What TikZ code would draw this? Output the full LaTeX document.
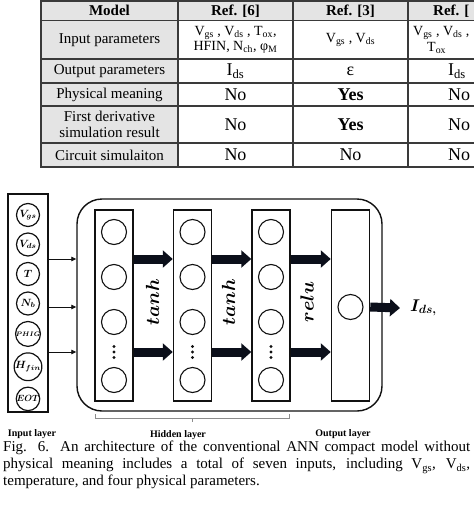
\RequirePackage{fix-cm}
\documentclass[tikz,border=0pt]{standalone}
\usepackage{fontspec}
\setmainfont{Liberation Serif}
\usepackage{bm}
\usetikzlibrary{positioning,arrows.meta}
\definecolor{cLine}{HTML}{111111}
\definecolor{cGrid}{HTML}{3A3A3A}
\definecolor{cCell}{HTML}{E4E4E4}
\definecolor{cBrace}{HTML}{8C8C8C}
\definecolor{cArrow}{HTML}{0B0F1A}
\tikzset{
  cell-text/.style={inner sep=0pt,align=center,font=\fontsize{15}{15.5}\selectfont},
  cell-small/.style={inner sep=0pt,align=center,font=\fontsize{14}{15}\selectfont},
  cell-big/.style={inner sep=0pt,font=\fontsize{18}{18}\selectfont},
  grid-line/.style={draw=cGrid,line width=1.1pt},
  table-border/.style={draw=cGrid,line width=2.4pt},
  in-box/.style={draw=cLine,line width=1.3pt,minimum width=40pt,minimum height=218pt,inner sep=0pt},
  layer-box/.style={draw=cLine,line width=1.5pt,minimum width=38pt,minimum height=191pt,inner sep=0pt},
  in-neuron/.style={draw=cLine,line width=1.2pt,circle,minimum size=23pt,inner sep=0pt,
    font=\fontsize{10.5}{10.5}\selectfont},
  neuron/.style={draw=cLine,line width=1.1pt,circle,minimum size=25pt,inner sep=0pt},
  dot-mark/.style={fill=cLine},
  frame-box/.style={draw=cLine,line width=1.4pt,rounded corners=25pt,minimum width=305pt,
    minimum height=212pt,inner sep=0pt},
  arrow-thin/.style={-{Triangle[length=5pt,width=4.5pt]},line width=0.8pt,draw=cLine},
  arrow-fat/.style={-{Triangle[length=10pt,width=17pt]},line width=9pt,draw=cArrow},
  act-label/.style={rotate=90,inner sep=0pt,font=\fontsize{19}{19}\selectfont},
  layer-label/.style={inner sep=0pt,font=\fontsize{10}{10}\selectfont\bfseries},
  brace-line/.style={draw=cBrace,line width=0.8pt},
  caption-text/.style={inner sep=0pt,text width=467pt,align=justify,
    font=\fontsize{15}{17}\selectfont},
}

\begin{document}
\begin{tikzpicture}[x=1pt,y=-1pt]
  \useasboundingbox (0,0) rectangle (474,507);
  \clip (0,0) rectangle (474,507);

  % comparison table (cut at the right edge)
  \fill[cCell] (41,1) rectangle (523,20.5);
  \fill[cCell] (41,20.5) rectangle (178,167);
  \draw[grid-line] (41,20.5) -- (523,20.5) (41,59) -- (523,59) (41,83) -- (523,83)
    (41,106) -- (523,106) (41,143) -- (523,143);
  \draw[grid-line] (178,1) -- (178,167) (293,1) -- (293,167) (408,1) -- (408,167);
  \draw[table-border] (41,1) rectangle (523,167);

  \node[cell-text,font=\fontsize{15}{15}\selectfont\bfseries] (t-model) at (109.5,10.8) {Model};
  \node[cell-text,font=\fontsize{15}{15}\selectfont\bfseries] (t-ref6) at (235.5,10.8) {Ref. [6]};
  \node[cell-text,font=\fontsize{15}{15}\selectfont\bfseries] (t-ref3) at (350.5,10.8) {Ref. [3]};
  \node[cell-text,font=\fontsize{15}{15}\selectfont\bfseries,anchor=west] (t-refx) at (433,10.8) {Ref. [};

  \node[cell-text] (t-input) at (109.5,39.8) {Input parameters};
  \node[cell-small] (t-input6) at (235.5,40) {V\textsubscript{gs} , V\textsubscript{ds} , T\textsubscript{ox},\\
    HFIN, N\textsubscript{ch}, φ\textsubscript{M}};
  \node[cell-small] (t-input3) at (350.5,40) {V\textsubscript{gs} , V\textsubscript{ds}};
  \node[cell-small,anchor=west] (t-inputx) at (413,33) {V\textsubscript{gs} , V\textsubscript{ds} ,};
  \node[cell-small,anchor=west] (t-inputy) at (427,48) {T\textsubscript{ox}};

  \node[cell-text] (t-output) at (109.5,71) {Output parameters};
  \node[cell-big] (t-output6) at (235.5,71) {I\textsubscript{ds}};
  \node[cell-big] (t-output3) at (350.5,71) {ε};
  \node[cell-big,anchor=west] (t-outputx) at (448,71) {I\textsubscript{ds}};

  \node[cell-text] (t-phys) at (109.5,94.5) {Physical meaning};
  \node[cell-big] (t-phys6) at (235.5,94.5) {No};
  \node[cell-big,font=\fontsize{18}{18}\selectfont\bfseries] (t-phys3) at (350.5,94.5) {Yes};
  \node[cell-big,anchor=west] (t-physx) at (448,94.5) {No};

  \node[cell-text] (t-deriv) at (109.5,124.5) {First derivative\\simulation result};
  \node[cell-big] (t-deriv6) at (235.5,124.5) {No};
  \node[cell-big,font=\fontsize{18}{18}\selectfont\bfseries] (t-deriv3) at (350.5,124.5) {Yes};
  \node[cell-big,anchor=west] (t-derivx) at (448,124.5) {No};

  \node[cell-text] (t-circ) at (109.5,155) {Circuit simulaiton};
  \node[cell-big] (t-circ6) at (235.5,155) {No};
  \node[cell-big] (t-circ3) at (350.5,155) {No};
  \node[cell-big,anchor=west] (t-circx) at (448,155) {No};

  % network
  \coordinate (ya) at (0,259);
  \coordinate (yb) at (0,307);
  \coordinate (yc) at (0,352);
  \coordinate (r1) at (0,232);
  \coordinate (r2) at (0,277);
  \coordinate (r3) at (0,322);
  \coordinate (rd) at (0,352);
  \coordinate (r4) at (0,380);

  \node[in-box] (in) at (28,303) {};
  \node[in-neuron] (vgs) at (28,215) {$\bm{V_{gs}}$};
  \node[in-neuron,below=5.3pt of vgs] (vds) {$\bm{V_{ds}}$};
  \node[in-neuron,below=5.3pt of vds] (temp) {$\bm{T}$};
  \node[in-neuron,below=5.3pt of temp] (nb) {$\bm{N_b}$};
  \node[in-neuron,below=5.3pt of nb,font=\fontsize{6.5}{6.5}\selectfont] (phig) {$\bm{PHIG}$};
  \node[in-neuron,below=5.3pt of phig] (hfin) {$\bm{H_{fin}}$};
  \node[in-neuron,below=5.3pt of hfin,font=\fontsize{9}{9}\selectfont] (eot) {$\bm{EOT}$};

  \node[frame-box] (frame) at (229.5,305) {};

  \node[layer-box] (h1) at (114,305.5) {};
  \node[layer-box,right=39pt of h1] (h2) {};
  \node[layer-box,right=39pt of h2] (h3) {};
  \node[layer-box,right=40pt of h3] (out) {};

  \node[neuron] (h1-1) at (h1 |- r1) {};
  \node[neuron] (h1-2) at (h1 |- r2) {};
  \node[neuron] (h1-3) at (h1 |- r3) {};
  \coordinate (h1-d) at (h1 |- rd);
  \node[neuron] (h1-4) at (h1 |- r4) {};
  \node[neuron] (h2-1) at (h2 |- r1) {};
  \node[neuron] (h2-2) at (h2 |- r2) {};
  \node[neuron] (h2-3) at (h2 |- r3) {};
  \coordinate (h2-d) at (h2 |- rd);
  \node[neuron] (h2-4) at (h2 |- r4) {};
  \node[neuron] (h3-1) at (h3 |- r1) {};
  \node[neuron] (h3-2) at (h3 |- r2) {};
  \node[neuron] (h3-3) at (h3 |- r3) {};
  \coordinate (h3-d) at (h3 |- rd);
  \node[neuron] (h3-4) at (h3 |- r4) {};
  \node[neuron] (o-1) at (out |- yb) {};

  % vertical ellipsis in each hidden layer
  \fill[dot-mark] (h1-d) ++(0,-5.5) circle (1.6) ++(0,5.5) circle (1.6) ++(0,5.5) circle (1.6);
  \fill[dot-mark] (h2-d) ++(0,-5.5) circle (1.6) ++(0,5.5) circle (1.6) ++(0,5.5) circle (1.6);
  \fill[dot-mark] (h3-d) ++(0,-5.5) circle (1.6) ++(0,5.5) circle (1.6) ++(0,5.5) circle (1.6);

  \node[act-label] (act1) at (152.5,302) {$\bm{tanh}$};
  \node[act-label] (act2) at (228.5,302) {$\bm{tanh}$};
  \node[act-label] (act3) at (307,302) {$\bm{relu}$};
  \node[inner sep=0pt,anchor=west,font=\fontsize{17}{17}\selectfont] (ids) at (410,308) {$\bm{I_{ds,}}$};

  \draw[arrow-thin] (in.east |- ya) -- (frame.west |- ya);
  \draw[arrow-thin] (in.east |- yb) -- (frame.west |- yb);
  \draw[arrow-thin] (in.east |- yc) -- (frame.west |- yc);
  \draw[arrow-fat] (h1.east |- ya) -- (h2.west |- ya);
  \draw[arrow-fat] (h1.east |- yc) -- (h2.west |- yc);
  \draw[arrow-fat] (h2.east |- ya) -- (h3.west |- ya);
  \draw[arrow-fat] (h2.east |- yc) -- (h3.west |- yc);
  \draw[arrow-fat] (h3.east |- ya) -- (out.west |- ya);
  \draw[arrow-fat] (h3.east |- yc) -- (out.west |- yc);
  \draw[arrow-fat] (out.east |- yb) -- ([xshift=-10pt]ids.west);

  % hidden layer bracket
  \draw[brace-line] (95,414) -- (95,418) -- (289,418) -- (289,414) (192,418) -- (192,422);

  \node[layer-label] (lb-in) at (32,434) {Input layer};
  \node[layer-label] (lb-hid) at (178,435) {Hidden layer};
  \node[layer-label] (lb-out) at (343,434) {Output layer};

  \node[caption-text,anchor=north west] (cap) at (3,441) {Fig. 6. An architecture of the
    conventional ANN compact model without\linebreak physical meaning includes a total of
    seven inputs, including V\textsubscript{gs}, V\textsubscript{ds},\linebreak temperature,
    and four physical parameters.};
\end{tikzpicture}
\end{document}
